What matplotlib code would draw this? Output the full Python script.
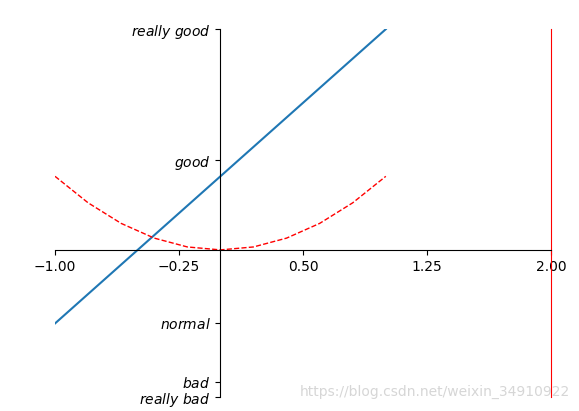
import matplotlib
matplotlib.use("Agg")
import matplotlib.pyplot as plt
import numpy as np

line_x = [-1.0, 1.0]
line_y = [-1.0, 3.0]
curve_x = [-1.0, -0.8, -0.6, -0.4, -0.2, 0.0, 0.2, 0.4, 0.6, 0.8, 1.0]
curve_y = [1.0, 0.64, 0.36, 0.16, 0.04, 0.0, 0.04, 0.16, 0.36, 0.64, 1.0]
xtick_vals = [-1.0, -0.25, 0.5, 1.25, 2.0]
ytick_vals = [-2, -1.8, -1, 1.22, 3]
ytick_labels = [r'$really\ bad$', r'$bad$', r'$normal$', r'$good$', r'$really\ good$']

fig = plt.figure(figsize=(5.79, 4.11), dpi=100)
ax = fig.add_subplot(111)
fig.subplots_adjust(left=0.095, right=0.952, top=0.929, bottom=0.034)
ax.plot(line_x, line_y)
ax.plot(curve_x, curve_y, color='red', linewidth=1.0, linestyle='--')
ax.set_xlim(-1, 2)
ax.set_ylim(-2, 3)
ax.set_xticks(xtick_vals)
ax.set_yticks(ytick_vals, ytick_labels)
ax.spines['right'].set_color('red')
ax.spines['top'].set_color('none')
ax.xaxis.set_ticks_position('bottom')
ax.yaxis.set_ticks_position('left')
ax.spines['bottom'].set_position(('data', 0))
ax.spines['left'].set_position(('data', 0))
fig.text(0.985, 0.03, 'https://blog.csdn.net/weixin_34910922', ha='right', va='bottom',
         color='#cccccc', fontsize=10, alpha=0.8)
fig.savefig('out.png', dpi=100)
